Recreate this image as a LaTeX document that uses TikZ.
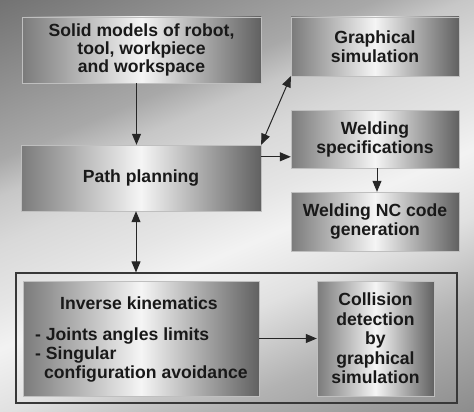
\documentclass[tikz,border=0pt]{standalone}
\usepackage{fontspec}
\setmainfont{Liberation Sans}
\usetikzlibrary{arrows.meta,calc}
\pgfdeclareverticalshading{bgshade}{100bp}{color(0bp)=(black!45); color(25bp)=(black!45); color(34bp)=(black!30); color(41bp)=(black!12); color(46.5bp)=(black!5); color(50bp)=(black!10); color(55bp)=(black!15); color(59bp)=(black!22); color(62bp)=(black!34); color(75bp)=(black!55); color(100bp)=(black!55)}
\begin{document}
\begin{tikzpicture}[x=1pt,y=-1pt,
  txt/.style={text=black!90, font=\bfseries\fontsize{17.6}{19}\selectfont},
  box/.style={rectangle, inner sep=0pt, left color=black!52, right color=black!62,
    middle color=white!96!black, draw=white!75!black, line width=0.4pt,
    align=center, txt},
  lbl/.style={inner sep=0pt, txt},
  frame/.style={rectangle, inner sep=0pt, draw=black!78, line width=1.2pt},
  arr/.style={draw=black!85, line width=1pt, -{Triangle[length=11pt,width=9pt]}},
  darr/.style={draw=black!85, line width=1pt, {Triangle[length=11pt,width=9pt]}-{Triangle[length=11pt,width=9pt]}}
]
\useasboundingbox (0,0) rectangle (474,412);
\begin{scope}
  \clip (0,0) rectangle (474,412);
  \shade[shading=bgshade, transform canvas={rotate around={22.9:(237,206)}}] (-363,-76) rectangle (837,488);
\end{scope}

\node[box, minimum width=239pt, minimum height=66pt, font=\bfseries\fontsize{17.6}{18.3}\selectfont] (sm) at (141.5,50)
  {Solid models of robot,\\tool, workpiece\\and workspace};
\node[box, minimum width=168pt, minimum height=59pt] (gs) at (375,46.5) {Graphical\\simulation};
\node[box, minimum width=168pt, minimum height=58pt] (ws) at (375,139) {Welding\\specifications};
\node[box, minimum width=240pt, minimum height=66pt] (pp) at (141,178) {Path planning};
\node[box, minimum width=168pt, minimum height=59pt] (nc) at (375,221.5) {Welding NC code\\generation};

\node[frame, minimum width=441pt, minimum height=130pt] (fr) at (236.5,338) {};
\node[box, minimum width=236pt, minimum height=115pt] (ik) at (141,338.5) {};
\node[box, minimum width=117pt, minimum height=115pt, font=\bfseries\fontsize{17.6}{19.6}\selectfont] (cd) at (375.5,338.5)
  {Collision\\detection\\by\\graphical\\simulation};

\node[lbl, anchor=base] (ikt) at (139,309) {Inverse kinematics};
\node[lbl, anchor=base west] (ik1) at (35,340) {- Joints angles limits};
\node[lbl, anchor=base west] (ik2) at (35,359) {- Singular};
\node[lbl, anchor=base west] (ik3) at (44,378) {configuration avoidance};

\draw[arr] ([xshift=-5pt]sm.south) -- ([xshift=-5pt]sm.south |- pp.north);
\draw[darr] (pp.north east) -- (gs.south west);
\draw[arr] ([yshift=-12pt]pp.north east) -- ([yshift=-12pt]pp.north east -| ws.west);
\draw[arr] ([xshift=2pt]ws.south) -- ([xshift=2pt]ws.south |- nc.north);
\draw[darr] ([xshift=-5pt]pp.south) -- ([xshift=-5pt]pp.south |- fr.north);
\draw[arr] (ik.east) -- (cd.west);
\end{tikzpicture}
\end{document}
